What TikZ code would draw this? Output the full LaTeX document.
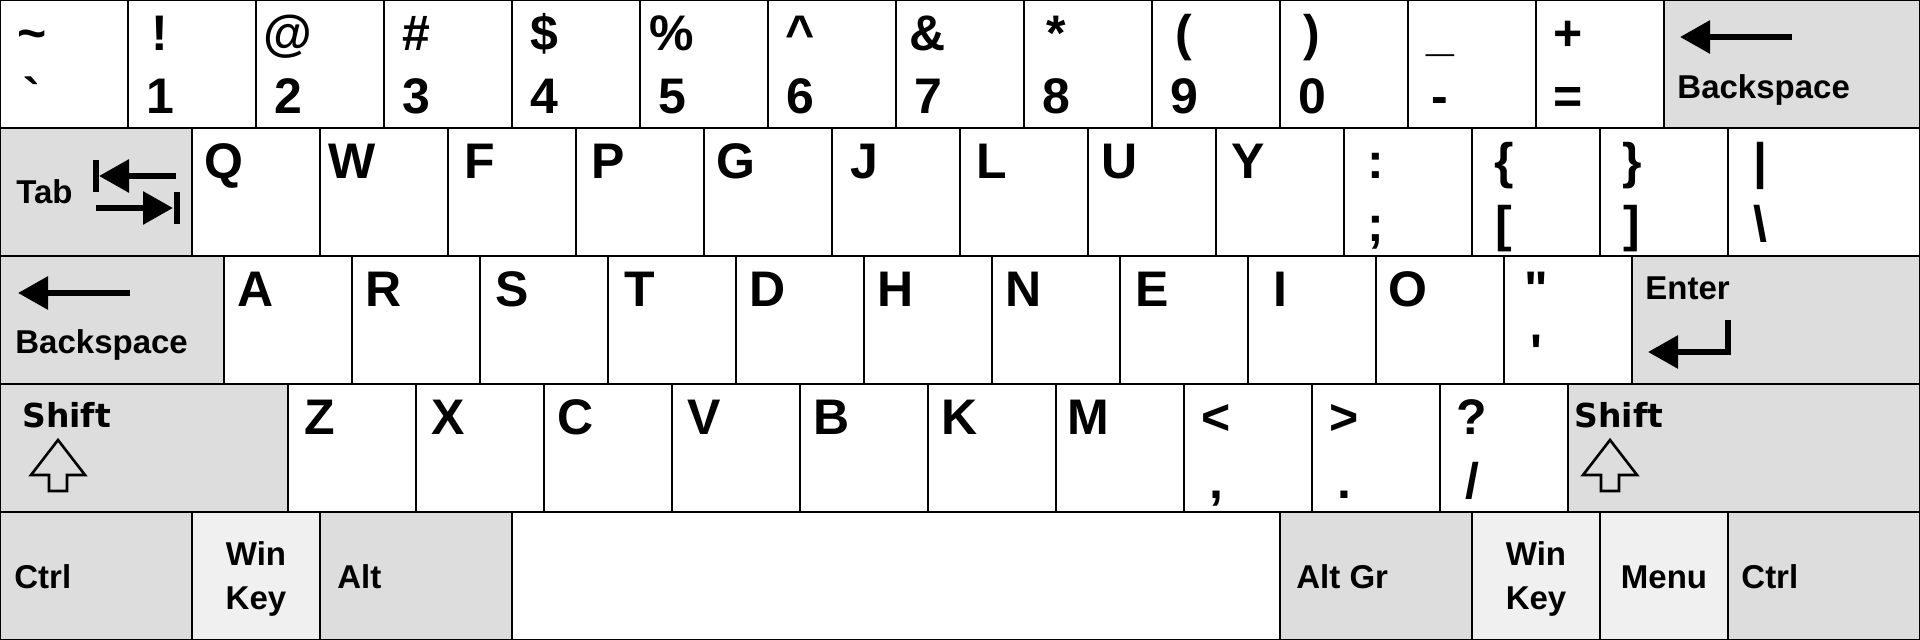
\documentclass[tikz,border=0pt]{standalone}
\usepackage{fontspec}
\setmainfont{Liberation Sans}
\newfontfamily\shiftfont{DejaVu Sans}
\usetikzlibrary{arrows.meta}
\definecolor{modgray}{HTML}{DDDDDD}
\definecolor{wingray}{HTML}{F0F0F0}
\newcommand\capfont{\fontsize{25}{30}\selectfont\bfseries}
\newcommand\modfont{\fontsize{16.5}{22}\selectfont\bfseries}

\begin{document}
\begin{tikzpicture}[x=0.5pt,y=-0.5pt,
  keybox/.style={draw,line width=1pt,fill=white,inner sep=0pt,outer sep=0pt,
    anchor=north west,minimum height=64pt,minimum width=#1*0.5pt},
  keybox/.default=128,
  modkey/.style={fill=modgray},
  winkey/.style={fill=wingray},
  toplabel/.style={anchor=base,inner sep=0pt,font=\capfont},
  modtext/.style={anchor=base west,inner sep=0pt,font=\modfont},
  arr/.style={line width=3pt,-{Triangle[length=15pt,width=16pt]}},
  tabbar/.style={line width=3pt},
  shiftarrow/.style={line width=1.3pt,line join=miter}]
\useasboundingbox (0,0) rectangle (1920,640);

% number row
\foreach \i/\up/\dn in {0/\textasciitilde/\textasciigrave,1/!/1,2/@/2,3/\#/3,4/\$/4,
  5/\%/5,6/\textasciicircum/6,7/\&/7,8/*/8,9/(/9,10/)/0,11/\_/-,12/+/=}{
  \node[keybox] (n\i) at (\i*128,0) {};
  \node[toplabel] (n\i-up) at ([shift={(32,51)}]n\i.north west) {\up};
  \node[toplabel] (n\i-dn) at ([shift={(32,114)}]n\i.north west) {\dn};
}
\node[keybox=256,modkey] (bksp) at (1664,0) {};
\begin{scope}[shift={(bksp.north west)}]
  \draw[arr] (128,37) -- (16,37);
  \node[modtext] (bksp-t) at (13,99) {Backspace};
\end{scope}

% top letter row
\node[keybox=192,modkey] (tab) at (0,128) {};
\begin{scope}[shift={(tab.north west)}]
  \node[modtext] (tab-t) at (16,76) {Tab};
  \draw[tabbar] (96,32) -- (96,64);
  \draw[arr] (176,48) -- (99,48);
  \draw[tabbar] (176.5,64) -- (176.5,96);
  \draw[arr] (96,80) -- (173,80);
\end{scope}
\foreach \i/\l in {0/Q,1/W,2/F,3/P,4/G,5/J,6/L,7/U,8/Y}{
  \node[keybox] (q\i) at (192+\i*128,128) {};
  \node[toplabel] (q\i-up) at ([shift={(32,51)}]q\i.north west) {\l};
}
\foreach \i/\up/\dn in {9/:/;,10/\{/[,11/\}/]}{
  \node[keybox] (q\i) at (192+\i*128,128) {};
  \node[toplabel] (q\i-up) at ([shift={(32,51)}]q\i.north west) {\up};
  \node[toplabel] (q\i-dn) at ([shift={(32,114)}]q\i.north west) {\dn};
}
\node[keybox=192] (bsl) at (1728,128) {};
\node[toplabel] (bsl-up) at ([shift={(32,51)}]bsl.north west) {\textbar};
\node[toplabel] (bsl-dn) at ([shift={(32,114)}]bsl.north west) {\textbackslash};

% home row
\node[keybox=224,modkey] (caps) at (0,256) {};
\begin{scope}[shift={(caps.north west)}]
  \draw[arr] (130,37) -- (18,37);
  \node[modtext] (caps-t) at (15,98) {Backspace};
\end{scope}
\foreach \i/\l in {0/A,1/R,2/S,3/T,4/D,5/H,6/N,7/E,8/I,9/O}{
  \node[keybox] (a\i) at (224+\i*128,256) {};
  \node[toplabel] (a\i-up) at ([shift={(32,51)}]a\i.north west) {\l};
}
\node[keybox] (quote) at (1504,256) {};
\node[toplabel] (quote-up) at ([shift={(32,51)}]quote.north west) {\textquotedbl};
\node[toplabel] (quote-dn) at ([shift={(32,114)}]quote.north west) {\textquotesingle};
\node[keybox=288,modkey] (enter) at (1632,256) {};
\begin{scope}[shift={(enter.north west)}]
  \node[modtext] (enter-t) at (13,44) {Enter};
  \draw[arr,line join=miter] (96,64) -- (96,96) -- (16,96);
\end{scope}

% bottom letter row
\node[keybox=288,modkey] (lshift) at (0,384) {};
\begin{scope}[shift={(lshift.north west)}]
  \node[modtext,font=\modfont\shiftfont] (lshift-t) at (22,44) {Shift};
  \draw[shiftarrow] (58,56) -- (85,91) -- (67,91) -- (67,107) -- (49,107) -- (49,91) -- (31,91) -- cycle;
\end{scope}
\foreach \i/\l in {0/Z,1/X,2/C,3/V,4/B,5/K,6/M}{
  \node[keybox] (z\i) at (288+\i*128,384) {};
  \node[toplabel] (z\i-up) at ([shift={(32,51)}]z\i.north west) {\l};
}
\foreach \i/\up/\dn in {7/</{,},8/>/.,9/?/{/}}{
  \node[keybox] (z\i) at (288+\i*128,384) {};
  \node[toplabel] (z\i-up) at ([shift={(32,51)}]z\i.north west) {\up};
  \node[toplabel] (z\i-dn) at ([shift={(32,114)}]z\i.north west) {\dn};
}
\node[keybox=352,modkey] (rshift) at (1568,384) {};
\begin{scope}[shift={(rshift.north west)}]
  \node[modtext,font=\modfont\shiftfont] (rshift-t) at (6,44) {Shift};
  \draw[shiftarrow] (42,56) -- (69,91) -- (51,91) -- (51,107) -- (33,107) -- (33,91) -- (15,91) -- cycle;
\end{scope}

% space row
\node[keybox=192,modkey] (lctrl) at (0,512) {};
\node[modtext] (lctrl-t) at ([shift={(14,76)}]lctrl.north west) {Ctrl};
\node[keybox,winkey] (lwin) at (192,512) {};
\node[font=\modfont,align=center,inner sep=0pt] (lwin-t) at ([shift={(64,67)}]lwin.north west) {Win\\Key};
\node[keybox=192,modkey] (lalt) at (320,512) {};
\node[modtext] (lalt-t) at ([shift={(17,76)}]lalt.north west) {Alt};
\node[keybox=768] (space) at (512,512) {};
\node[keybox=192,modkey] (altgr) at (1280,512) {};
\node[modtext] (altgr-t) at ([shift={(16,76)}]altgr.north west) {Alt Gr};
\node[keybox,winkey] (rwin) at (1472,512) {};
\node[font=\modfont,align=center,inner sep=0pt] (rwin-t) at ([shift={(64,67)}]rwin.north west) {Win\\Key};
\node[keybox,winkey] (menu) at (1600,512) {};
\node[modtext,anchor=base] (menu-t) at ([shift={(64,76)}]menu.north west) {Menu};
\node[keybox=192,modkey] (rctrl) at (1728,512) {};
\node[modtext] (rctrl-t) at ([shift={(13,76)}]rctrl.north west) {Ctrl};
\end{tikzpicture}
\end{document}
